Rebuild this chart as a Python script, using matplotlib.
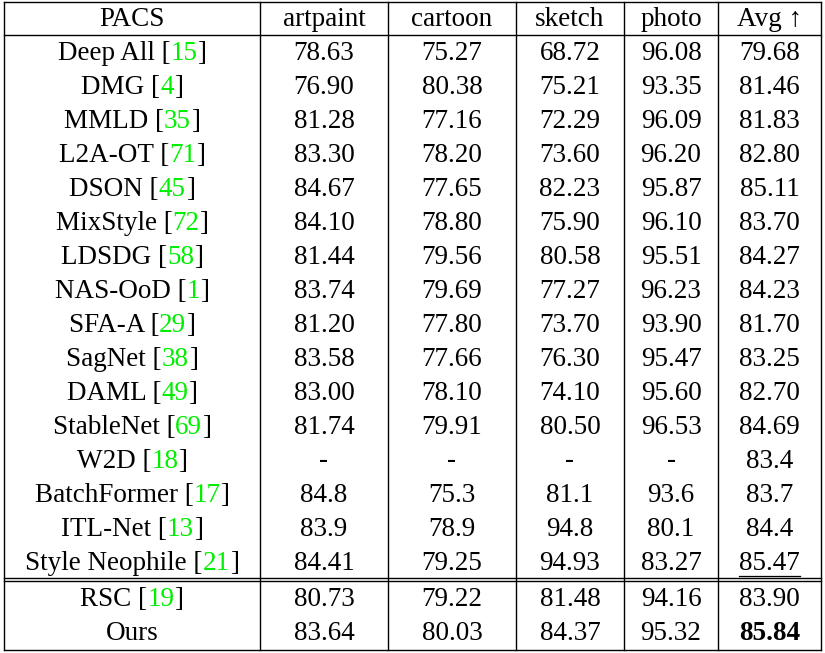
import matplotlib
matplotlib.use("Agg")
import matplotlib.pyplot as plt

header = ["PACS", "artpaint", "cartoon", "sketch", "photo", "Avg ↑"]
methods = ["Deep All", "DMG", "MMLD", "L2A-OT", "DSON", "MixStyle", "LDSDG", "NAS-OoD",
           "SFA-A", "SagNet", "DAML", "StableNet", "W2D", "BatchFormer", "ITL-Net",
           "Style Neophile", "RSC", "Ours"]
cites = ["15", "4", "35", "71", "45", "72", "58", "1", "29", "38", "49", "69", "18", "17",
         "13", "21", "19", None]
artpaint = ["78.63", "76.90", "81.28", "83.30", "84.67", "84.10", "81.44", "83.74", "81.20",
            "83.58", "83.00", "81.74", "-", "84.8", "83.9", "84.41", "80.73", "83.64"]
cartoon = ["75.27", "80.38", "77.16", "78.20", "77.65", "78.80", "79.56", "79.69", "77.80",
           "77.66", "78.10", "79.91", "-", "75.3", "78.9", "79.25", "79.22", "80.03"]
sketch = ["68.72", "75.21", "72.29", "73.60", "82.23", "75.90", "80.58", "77.27", "73.70",
          "76.30", "74.10", "80.50", "-", "81.1", "94.8", "94.93", "81.48", "84.37"]
photo = ["96.08", "93.35", "96.09", "96.20", "95.87", "96.10", "95.51", "96.23", "93.90",
         "95.47", "95.60", "96.53", "-", "93.6", "80.1", "83.27", "94.16", "95.32"]
avg = ["79.68", "81.46", "81.83", "82.80", "85.11", "83.70", "84.27", "84.23", "81.70",
       "83.25", "82.70", "84.69", "83.4", "83.7", "84.4", "85.47", "83.90", "85.84"]

fig = plt.figure(figsize=(8.25, 6.53), dpi=100)
ax = fig.add_axes([0, 0, 1, 1])
ax.set_xlim(0, 825); ax.set_ylim(653, 0); ax.axis("off")

FAM = ["Liberation Serif", "DejaVu Serif"]
FS = 19.5
xs = [4, 260, 388, 516, 624, 718, 821]
top, bot = 2, 650
hdr_bot = 35
rowh = 34.0
green = "#00ee00"

lw = 1.0
for x in xs:
    ax.plot([x, x], [top, bot], color="black", lw=lw)
ax.plot([xs[0], xs[-1]], [top, top], color="black", lw=lw)
ax.plot([xs[0], xs[-1]], [bot, bot], color="black", lw=lw)
ax.plot([xs[0], xs[-1]], [hdr_bot, hdr_bot], color="black", lw=lw)
ysep = hdr_bot + 16 * rowh
ax.plot([xs[0], xs[-1]], [ysep - 1.5, ysep - 1.5], color="black", lw=lw)
ax.plot([xs[0], xs[-1]], [ysep + 1.5, ysep + 1.5], color="black", lw=lw)

def cx(i):
    return (xs[i] + xs[i + 1]) / 2

for i, h in enumerate(header):
    ax.text(cx(i), (top + hdr_bot) / 2 + 1, h, ha="center", va="center", fontsize=FS, family=FAM)

fig.canvas.draw()
r = fig.canvas.get_renderer()

def width(s):
    t = ax.text(0, 0, s, fontsize=FS, family=FAM)
    w = t.get_window_extent(renderer=r).width
    t.remove()
    return w

for k in range(len(methods)):
    yc = hdr_bot + rowh * (k + 0.5) + 1 + (3 if k >= 16 else 0)
    if cites[k] is None:
        ax.text(cx(0), yc, methods[k], ha="center", va="center", fontsize=FS, family=FAM)
    else:
        parts = [(methods[k] + " [", "black"), (cites[k], green), ("]", "black")]
        total = sum(width(p) for p, _ in parts)
        x = cx(0) - total / 2
        for p, c in parts:
            ax.text(x, yc, p, ha="left", va="center", fontsize=FS, family=FAM, color=c)
            x += width(p)
    for j, col in enumerate([artpaint, cartoon, sketch, photo, avg]):
        bold = (j == 4 and k == len(methods) - 1)
        ax.text(cx(j + 1), yc, col[k], ha="center", va="center", fontsize=FS, family=FAM,
                fontweight="bold" if bold else "normal")
        if j == 4 and methods[k] == "Style Neophile":
            w = width(col[k])
            ax.plot([cx(5) - w / 2, cx(5) + w / 2], [yc + 13, yc + 13], color="black", lw=0.9)

fig.savefig("out.png", dpi=100)
